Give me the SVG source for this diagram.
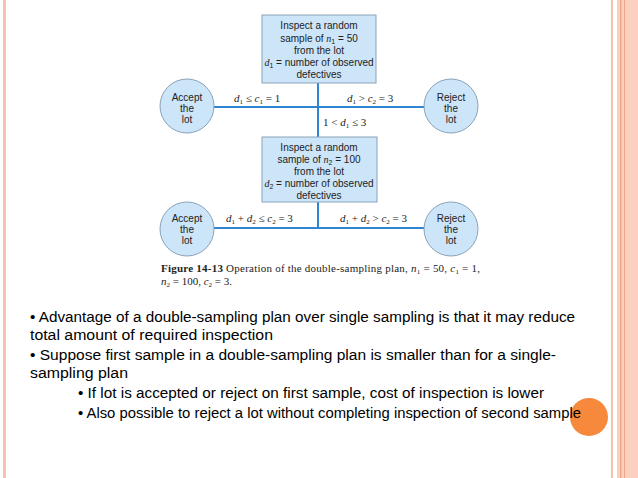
<svg xmlns="http://www.w3.org/2000/svg" width="638" height="478" viewBox="0 0 638 478">
<style>
.box{fill:#cce5f9;stroke:#8aa3b8;stroke-width:1}
.circ{fill:#cce5f9;stroke:#8aa3b8;stroke-width:1}
.t{font-family:"Liberation Sans",Arial,sans-serif;font-size:10px;fill:#222;text-anchor:middle}
.m{font-family:"Liberation Serif",serif;font-size:11px;fill:#222}
.ln{stroke:#2e86d0;stroke-width:2;fill:none}
.b{font-family:"Liberation Sans",Arial,sans-serif;font-size:14px;fill:#000}
</style>
<rect x="0" y="0" width="638" height="478" fill="#fff"/>
<rect x="3" y="0" width="3" height="478" fill="#f6c2ae"/>
<rect x="611" y="0" width="2" height="478" fill="#f6c2ae"/>
<rect x="617" y="0" width="21" height="478" fill="#fbd0bf"/>
<rect x="620" y="0" width="1.5" height="478" fill="#f0a88d"/>
<rect x="624" y="0" width="1" height="478" fill="#f0a88d"/>
<g id="connectors">
<line class="ln" x1="212" y1="107" x2="426" y2="107"/>
<line class="ln" x1="318" y1="83" x2="318" y2="137"/>
<line class="ln" x1="214" y1="228" x2="424" y2="228"/>
<line class="ln" x1="318" y1="202" x2="318" y2="228"/>
</g>
<g id="box1"><rect class="box" x="262" y="15" width="114" height="68"/>
<text class="t" x="319" y="29">Inspect a random</text>
<text class="t" x="319" y="42">sample of <tspan font-family="Liberation Serif" font-style="italic">n</tspan><tspan font-size="7" dy="2">1</tspan><tspan dy="-2"> = 50</tspan></text>
<text class="t" x="319" y="54">from the lot</text>
<text class="t" x="319" y="66"><tspan font-family="Liberation Serif" font-style="italic">d</tspan><tspan font-size="7" dy="2">1</tspan><tspan dy="-2"> = number of observed</tspan></text>
<text class="t" x="319" y="78">defectives</text></g>
<g id="accept1"><circle class="circ" cx="187" cy="106" r="27"/>
<text class="t" x="187" y="101">Accept</text><text class="t" x="187" y="112">the</text><text class="t" x="187" y="123">lot</text></g>
<g id="reject1"><circle class="circ" cx="451" cy="106" r="27"/>
<text class="t" x="451" y="101">Reject</text><text class="t" x="451" y="112">the</text><text class="t" x="451" y="123">lot</text></g>
<g id="labels1">
<text class="m" x="234" y="102"><tspan font-style="italic">d</tspan><tspan font-size="7" dy="2">1</tspan><tspan dy="-2"> ≤ </tspan><tspan font-style="italic">c</tspan><tspan font-size="7" dy="2">1</tspan><tspan dy="-2"> = 1</tspan></text>
<text class="m" x="347" y="102"><tspan font-style="italic">d</tspan><tspan font-size="7" dy="2">1</tspan><tspan dy="-2"> &gt; </tspan><tspan font-style="italic">c</tspan><tspan font-size="7" dy="2">2</tspan><tspan dy="-2"> = 3</tspan></text>
<text class="m" x="323" y="126">1 &lt; <tspan font-style="italic">d</tspan><tspan font-size="7" dy="2">1</tspan><tspan dy="-2"> ≤ 3</tspan></text>
</g>
<g id="box2"><rect class="box" x="262" y="137" width="115" height="65"/>
<text class="t" x="319" y="151">Inspect a random</text>
<text class="t" x="319" y="163">sample of <tspan font-family="Liberation Serif" font-style="italic">n</tspan><tspan font-size="7" dy="2">2</tspan><tspan dy="-2"> = 100</tspan></text>
<text class="t" x="319" y="175">from the lot</text>
<text class="t" x="319" y="187"><tspan font-family="Liberation Serif" font-style="italic">d</tspan><tspan font-size="7" dy="2">2</tspan><tspan dy="-2"> = number of observed</tspan></text>
<text class="t" x="319" y="199">defectives</text></g>
<g id="accept2"><circle class="circ" cx="187" cy="229" r="27"/>
<text class="t" x="187" y="222">Accept</text><text class="t" x="187" y="233">the</text><text class="t" x="187" y="244">lot</text></g>
<g id="reject2"><circle class="circ" cx="451" cy="229" r="27"/>
<text class="t" x="451" y="222">Reject</text><text class="t" x="451" y="233">the</text><text class="t" x="451" y="244">lot</text></g>
<g id="labels2">
<text class="m" x="226" y="222"><tspan font-style="italic">d</tspan><tspan font-size="7" dy="2">1</tspan><tspan dy="-2"> + </tspan><tspan font-style="italic">d</tspan><tspan font-size="7" dy="2">2</tspan><tspan dy="-2"> ≤ </tspan><tspan font-style="italic">c</tspan><tspan font-size="7" dy="2">2</tspan><tspan dy="-2"> = 3</tspan></text>
<text class="m" x="340" y="222"><tspan font-style="italic">d</tspan><tspan font-size="7" dy="2">1</tspan><tspan dy="-2"> + </tspan><tspan font-style="italic">d</tspan><tspan font-size="7" dy="2">2</tspan><tspan dy="-2"> &gt; </tspan><tspan font-style="italic">c</tspan><tspan font-size="7" dy="2">2</tspan><tspan dy="-2"> = 3</tspan></text>
</g>
<g id="caption">
<text class="m" x="161" y="272" font-size="11" textLength="319" lengthAdjust="spacing"><tspan font-weight="bold">Figure 14-13</tspan>   Operation of the double-sampling plan, <tspan font-style="italic">n</tspan><tspan font-size="7" dy="2">1</tspan><tspan dy="-2"> = 50, </tspan><tspan font-style="italic">c</tspan><tspan font-size="7" dy="2">1</tspan><tspan dy="-2"> = 1,</tspan></text>
<text class="m" x="161" y="285" font-size="11"><tspan font-style="italic">n</tspan><tspan font-size="7" dy="2">2</tspan><tspan dy="-2"> = 100, </tspan><tspan font-style="italic">c</tspan><tspan font-size="7" dy="2">2</tspan><tspan dy="-2"> = 3.</tspan></text>
</g>
<circle cx="589" cy="417" r="19" fill="#f6893c"/>
<g id="bullets">
<text class="b" x="30" y="322" textLength="545" lengthAdjust="spacingAndGlyphs">• Advantage of a double-sampling plan over single sampling is that it may reduce</text>
<text class="b" x="30" y="340" textLength="243" lengthAdjust="spacingAndGlyphs">total amount of required inspection</text>
<text class="b" x="30" y="360" textLength="526" lengthAdjust="spacingAndGlyphs">• Suppose first sample in a double-sampling plan is smaller than for a single-</text>
<text class="b" x="30" y="378" textLength="98" lengthAdjust="spacingAndGlyphs">sampling plan</text>
<text class="b" x="78" y="398" textLength="466" lengthAdjust="spacingAndGlyphs">• If lot is accepted or reject on first sample, cost of inspection is lower</text>
<text class="b" x="78" y="418" textLength="503" lengthAdjust="spacingAndGlyphs">• Also possible to reject a lot without completing inspection of second sample</text>
</g>
</svg>
